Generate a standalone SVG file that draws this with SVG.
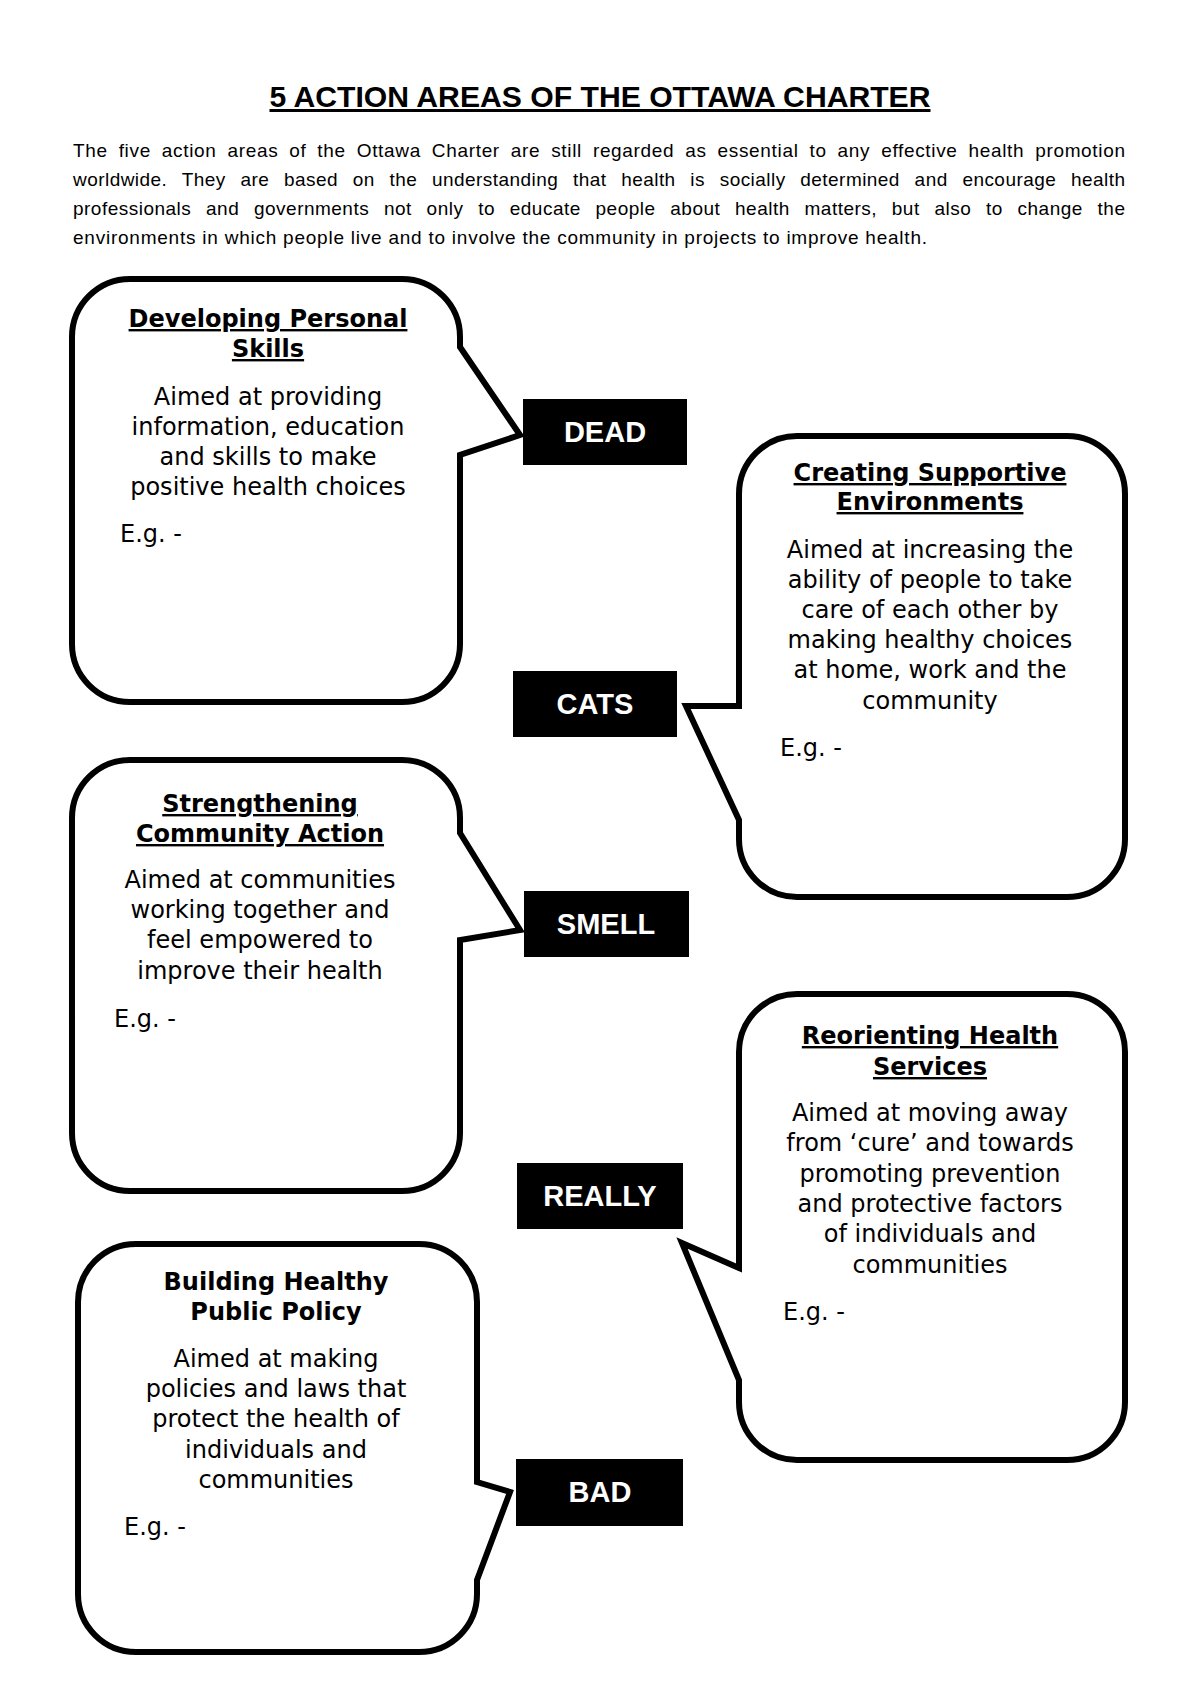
<svg xmlns="http://www.w3.org/2000/svg" width="1200" height="1696" viewBox="0 0 1200 1696">
<style>
.title{font-family:"Liberation Sans",Arial,sans-serif;font-weight:bold;font-size:30px;fill:#000;text-decoration:underline}
.para{font-family:"Liberation Sans",Arial,sans-serif;font-size:19px;fill:#000}
.bubble{fill:#fff;stroke:#000;stroke-width:6;stroke-linejoin:miter}
.head{font-family:"DejaVu Sans",Verdana,sans-serif;font-weight:bold;font-size:24px;fill:#000;text-anchor:middle}
.u{text-decoration:underline}
.body{font-family:"DejaVu Sans",Verdana,sans-serif;font-size:24px;fill:#000;text-anchor:middle}
.eg{font-family:"DejaVu Sans",Verdana,sans-serif;font-size:24px;fill:#000}
.lbl{fill:#000}
.lbltxt{font-family:"Liberation Sans",Arial,sans-serif;font-weight:bold;font-size:29px;fill:#fff;text-anchor:middle}
</style>
<rect width="1200" height="1696" fill="#fff"/>
<text class="title" x="600" y="107" text-anchor="middle" textLength="661" lengthAdjust="spacingAndGlyphs">5 ACTION AREAS OF THE OTTAWA CHARTER</text>
<g id="intro">
<text class="para" x="73" y="157" word-spacing="5" textLength="1052" lengthAdjust="spacing">The five action areas of the Ottawa Charter are still regarded as essential to any effective health promotion</text>
<text class="para" x="73" y="186" word-spacing="9" textLength="1052" lengthAdjust="spacing">worldwide. They are based on the understanding that health is socially determined and encourage health</text>
<text class="para" x="73" y="215" word-spacing="9" textLength="1052" lengthAdjust="spacing">professionals and governments not only to educate people about health matters, but also to change the</text>
<text class="para" x="73" y="244" textLength="854" lengthAdjust="spacing">environments in which people live and to involve the community in projects to improve health.</text>
</g>
<g id="connectors"></g>
<g id="bubble-personal-skills">
<path class="bubble" d="M130 279 H402 A58 58 0 0 1 460 337 V347 L520 435 L460 455 V644 A58 58 0 0 1 402 702 H130 A58 58 0 0 1 72 644 V337 A58 58 0 0 1 130 279 Z"/>
<text class="head u" x="268" y="327">Developing Personal</text>
<text class="head u" x="268" y="357">Skills</text>
<text class="body" x="268" y="405">Aimed at providing</text>
<text class="body" x="268" y="435">information, education</text>
<text class="body" x="268" y="465">and skills to make</text>
<text class="body" x="268" y="495">positive health choices</text>
<text class="eg" x="120" y="542">E.g. -</text>
</g>
<g id="label-dead">
<rect class="lbl" x="523" y="399" width="164" height="66"/>
<text class="lbltxt" x="605" y="442">DEAD</text>
</g>
<g id="bubble-supportive-environments">
<path class="bubble" d="M797 436 H1067 A58 58 0 0 1 1125 494 V839 A58 58 0 0 1 1067 897 H797 A58 58 0 0 1 739 839 V820 L686 706 L739 706 V494 A58 58 0 0 1 797 436 Z"/>
<text class="head u" x="930" y="481">Creating Supportive</text>
<text class="head u" x="930" y="510">Environments</text>
<text class="body" x="930" y="558">Aimed at increasing the</text>
<text class="body" x="930" y="588">ability of people to take</text>
<text class="body" x="930" y="618">care of each other by</text>
<text class="body" x="930" y="648">making healthy choices</text>
<text class="body" x="930" y="678">at home, work and the</text>
<text class="body" x="930" y="709">community</text>
<text class="eg" x="780" y="756">E.g. -</text>
</g>
<g id="label-cats">
<rect class="lbl" x="513" y="671" width="164" height="66"/>
<text class="lbltxt" x="595" y="714">CATS</text>
</g>
<g id="bubble-community-action">
<path class="bubble" d="M130 760 H402 A58 58 0 0 1 460 818 V833 L520 930 L460 940 V1133 A58 58 0 0 1 402 1191 H130 A58 58 0 0 1 72 1133 V818 A58 58 0 0 1 130 760 Z"/>
<text class="head u" x="260" y="812">Strengthening</text>
<text class="head u" x="260" y="842">Community Action</text>
<text class="body" x="260" y="888">Aimed at communities</text>
<text class="body" x="260" y="918">working together and</text>
<text class="body" x="260" y="948">feel empowered to</text>
<text class="body" x="260" y="979">improve their health</text>
<text class="eg" x="114" y="1027">E.g. -</text>
</g>
<g id="label-smell">
<rect class="lbl" x="524" y="891" width="165" height="66"/>
<text class="lbltxt" x="606" y="934">SMELL</text>
</g>
<g id="bubble-health-services">
<path class="bubble" d="M797 994 H1067 A58 58 0 0 1 1125 1052 V1402 A58 58 0 0 1 1067 1460 H797 A58 58 0 0 1 739 1402 V1380 L682 1243 L739 1268 V1052 A58 58 0 0 1 797 994 Z"/>
<text class="head u" x="930" y="1044">Reorienting Health</text>
<text class="head u" x="930" y="1075">Services</text>
<text class="body" x="930" y="1121">Aimed at moving away</text>
<text class="body" x="930" y="1151">from ‘cure’ and towards</text>
<text class="body" x="930" y="1182">promoting prevention</text>
<text class="body" x="930" y="1212">and protective factors</text>
<text class="body" x="930" y="1242">of individuals and</text>
<text class="body" x="930" y="1273">communities</text>
<text class="eg" x="783" y="1320">E.g. -</text>
</g>
<g id="label-really">
<rect class="lbl" x="517" y="1163" width="166" height="66"/>
<text class="lbltxt" x="600" y="1206">REALLY</text>
</g>
<g id="bubble-public-policy">
<path class="bubble" d="M136 1244 H419 A58 58 0 0 1 477 1302 V1482 L510 1492 L477 1580 V1594 A58 58 0 0 1 419 1652 H136 A58 58 0 0 1 78 1594 V1302 A58 58 0 0 1 136 1244 Z"/>
<text class="head" x="276" y="1290">Building Healthy</text>
<text class="head" x="276" y="1320">Public Policy</text>
<text class="body" x="276" y="1367">Aimed at making</text>
<text class="body" x="276" y="1397">policies and laws that</text>
<text class="body" x="276" y="1427">protect the health of</text>
<text class="body" x="276" y="1458">individuals and</text>
<text class="body" x="276" y="1488">communities</text>
<text class="eg" x="124" y="1535">E.g. -</text>
</g>
<g id="label-bad">
<rect class="lbl" x="516" y="1459" width="167" height="67"/>
<text class="lbltxt" x="600" y="1502">BAD</text>
</g>
</svg>
